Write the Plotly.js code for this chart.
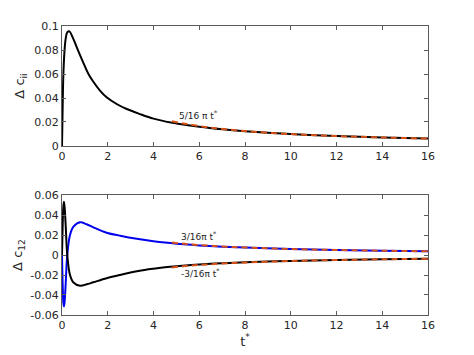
<!DOCTYPE html>
<html>
<head>
<meta charset="utf-8">
<script src="https://cdn.plot.ly/plotly-3.0.1.min.js"></script>
<style>html,body{margin:0;padding:0;background:#fff;}#chart{width:474px;height:355px;}</style>
</head>
<body>
<div id="chart"></div>
<script>
// ---- data ----
const tCii = [0, 0.03, 0.06, 0.12, 0.17, 0.23, 0.32, 0.5, 0.71, 0.93, 1.15, 1.37, 1.66, 1.95, 2.39, 2.83, 3.41, 4, 4.5, 5, 6, 7, 8, 10, 12, 14, 16];
const cii = [0, 0.034, 0.06, 0.082, 0.0905, 0.0947, 0.0955, 0.089, 0.0793, 0.0695, 0.0602, 0.0535, 0.0462, 0.0406, 0.035, 0.0308, 0.0266, 0.0228, 0.0205, 0.0188, 0.016, 0.0139, 0.0123, 0.0099, 0.0083, 0.0071, 0.0062];

const tAsym = [4.8, 5.5, 6.5, 8, 10, 12, 14, 16];
const ciiAsym = [0.0207, 0.0181, 0.0153, 0.0124, 0.0099, 0.0083, 0.0071, 0.0062];
const c12AsymPos = [0.0124, 0.01085, 0.0092, 0.0075, 0.006, 0.005, 0.0043, 0.0037];
const c12AsymNeg = [-0.0124, -0.01085, -0.0092, -0.0075, -0.006, -0.005, -0.0043, -0.0037];

const tC12 = [0, 0.03, 0.06, 0.087, 0.12, 0.16, 0.23, 0.35, 0.5, 0.79, 1.08, 1.37, 1.95, 2.54, 3.34, 4, 4.5, 5, 6, 7, 8, 10, 12, 14, 16];
const c12Black = [0, 0.03, 0.049, 0.0533, 0.046, 0.03, 0, -0.02, -0.0275, -0.0307, -0.0293, -0.0273, -0.0233, -0.02, -0.016, -0.0137, -0.0123, -0.0112, -0.0095, -0.0082, -0.0073, -0.0059, -0.0049, -0.0042, -0.0037];
const c12Blue = [0, -0.03, -0.048, -0.0515, -0.045, -0.029, 0, 0.02, 0.0283, 0.0327, 0.0307, 0.0277, 0.0223, 0.0193, 0.016, 0.0138, 0.0124, 0.0113, 0.0096, 0.0083, 0.0074, 0.006, 0.005, 0.0043, 0.0038];

const xTicks = [0, 2, 4, 6, 8, 10, 12, 14, 16];
const xTickText = ['0', '2', '4', '6', '8', '10', '12', '14', '16'];
const y1Ticks = [0, 0.02, 0.04, 0.06, 0.08, 0.1];
const y1TickText = ['0', '0.02', '0.04', '0.06', '0.08', '0.1'];
const y2Ticks = [-0.06, -0.04, -0.02, 0, 0.02, 0.04, 0.06];
const y2TickText = ['-0.06', '-0.04', '-0.02', '0', '0.02', '0.04', '0.06'];

const labels = [
  {text: '5/16 π t<sup>*</sup>', x: 5.03, y: 0.0255, ax: 'x', ay: 'y'},
  {text: '3/16π t<sup>*</sup>', x: 5.11, y: 0.019, ax: 'x2', ay: 'y2'},
  {text: '-3/16π t<sup>*</sup>', x: 5.11, y: -0.018, ax: 'x2', ay: 'y2'}
];

// ---- styling ----
const FONT = 'DejaVu Sans, sans-serif';
const TXT = '#262626';
const AX = '#5a5a5a';
const ORANGE = '#D95319';

const sol = (x, y, color, xa, ya) => ({x, y, xaxis: xa, yaxis: ya, type: 'scatter', mode: 'lines',
  line: {color, width: 2, shape: 'spline', smoothing: 1}, hoverinfo: 'skip'});
const dash = (x, y, xa, ya) => ({x, y, xaxis: xa, yaxis: ya, type: 'scatter', mode: 'lines',
  line: {color: ORANGE, width: 2, dash: '6px,4px', shape: 'spline'}, hoverinfo: 'skip'});

const data = [
  sol(tCii, cii, '#000000', 'x', 'y'),
  dash(tAsym, ciiAsym, 'x', 'y'),
  sol(tC12, c12Blue, '#0000ee', 'x2', 'y2'),
  sol(tC12, c12Black, '#000000', 'x2', 'y2'),
  dash(tAsym, c12AsymPos, 'x2', 'y2'),
  dash(tAsym, c12AsymNeg, 'x2', 'y2')
];

const xBase = {
  range: [0, 16], tickvals: xTicks, ticktext: xTickText,
  ticks: 'inside', ticklen: 4, tickcolor: AX, tickwidth: 1,
  showline: true, linecolor: AX, linewidth: 1, mirror: 'ticks',
  showgrid: false, zeroline: false, tickfont: {family: FONT, size: 11, color: TXT}
};
const yBase = {
  ticks: 'inside', ticklen: 4, tickcolor: AX, tickwidth: 1,
  showline: true, linecolor: AX, linewidth: 1, mirror: 'ticks',
  showgrid: false, zeroline: false, tickfont: {family: FONT, size: 11, color: TXT}
};

const layout = {
  width: 474, height: 355,
  margin: {l: 62, r: 46, t: 26, b: 40},
  paper_bgcolor: '#ffffff', plot_bgcolor: '#ffffff',
  showlegend: false,
  font: {family: FONT, color: TXT},
  xaxis: Object.assign({}, xBase, {anchor: 'y'}),
  yaxis: Object.assign({}, yBase, {domain: [0.5848, 1], range: [0, 0.1], tickvals: y1Ticks, ticktext: y1TickText,
    anchor: 'x', title: {text: 'Δ c<sub>ii</sub>', font: {family: FONT, size: 13, color: TXT}, standoff: 6}}),
  xaxis2: Object.assign({}, xBase, {anchor: 'y2',
    title: {text: 't<sup>*</sup>', font: {family: FONT, size: 13, color: TXT}, standoff: 4}}),
  yaxis2: Object.assign({}, yBase, {domain: [0, 0.4152], range: [-0.06, 0.06], tickvals: y2Ticks, ticktext: y2TickText,
    anchor: 'x2', title: {text: 'Δ c<sub>12</sub>', font: {family: FONT, size: 13, color: TXT}, standoff: 4}}),
  annotations: labels.map(l => ({text: l.text, x: l.x, y: l.y, xref: l.ax, yref: l.ay,
    xanchor: 'left', yanchor: 'middle', showarrow: false, font: {family: FONT, size: 9, color: TXT}}))
};

Plotly.newPlot('chart', data, layout, {staticPlot: true, displayModeBar: false});
</script>
</body>
</html>
